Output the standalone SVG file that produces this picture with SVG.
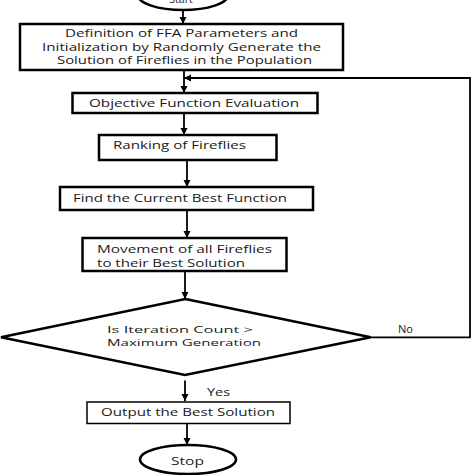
<svg xmlns="http://www.w3.org/2000/svg" width="474" height="475" viewBox="0 0 474 475">
<style>
.box{fill:#fff;stroke:#000;stroke-width:2.5}
.thin{stroke-width:1.5}
.t{font-family:"Open Sans","Liberation Sans",sans-serif;font-size:10.5px;fill:#1a1a1a}
.s{font-size:9.5px}
.c{stroke:#000;stroke-width:1.8;fill:none}
</style>
<defs>
<marker id="ah" markerUnits="userSpaceOnUse" markerWidth="8" markerHeight="8" refX="7" refY="4" orient="auto">
<path d="M0,0.5 L7,4 L0,7.5 Z" fill="#000"/>
</marker>
</defs>
<rect width="474" height="475" fill="#fff"/>
<g id="connectors">
<line class="c" x1="183" y1="10" x2="183" y2="24" marker-end="url(#ah)"/>
<line class="c" x1="184" y1="70" x2="184" y2="93" marker-end="url(#ah)"/>
<line class="c" x1="184" y1="113" x2="184" y2="135" marker-end="url(#ah)"/>
<line class="c" x1="187" y1="160" x2="187" y2="187" marker-end="url(#ah)"/>
<line class="c" x1="187" y1="210" x2="187" y2="238" marker-end="url(#ah)"/>
<line class="c" x1="185" y1="271" x2="185" y2="299" marker-end="url(#ah)"/>
<polyline class="c" points="370.5,337.3 470,337.3 470,78 184,78" marker-end="url(#ah)"/>
<line class="c" x1="185" y1="380.5" x2="185" y2="401" marker-end="url(#ah)"/>
<line class="c" x1="187" y1="423.5" x2="187" y2="445" marker-end="url(#ah)"/>
<text class="t" x="398" y="332.7" textLength="15" lengthAdjust="spacingAndGlyphs">No</text>
<text class="t" x="207" y="396" textLength="23" lengthAdjust="spacingAndGlyphs">Yes</text>
</g>
<g id="start">
<ellipse class="box" cx="183" cy="-5" rx="45" ry="15"/>
<text class="t" x="181" y="3" text-anchor="middle">Start</text>
</g>
<g id="init">
<rect class="box" x="20" y="24" width="323" height="46"/>
<text class="t" x="65" y="37.3" textLength="233" lengthAdjust="spacingAndGlyphs">Definition of FFA Parameters and</text>
<text class="t" x="42" y="50.7" textLength="279" lengthAdjust="spacingAndGlyphs">Initialization by Randomly Generate the</text>
<text class="t" x="57" y="64" textLength="255" lengthAdjust="spacingAndGlyphs">Solution of Fireflies in the Population</text>
</g>
<g id="objective">
<rect class="box" x="72.5" y="93" width="245" height="20"/>
<text class="t" x="89" y="106.5" textLength="210" lengthAdjust="spacingAndGlyphs">Objective Function Evaluation</text>
</g>
<g id="ranking">
<rect class="box" x="99" y="135" width="177.5" height="25"/>
<text class="t" x="113" y="149" textLength="133" lengthAdjust="spacingAndGlyphs">Ranking of Fireflies</text>
</g>
<g id="best">
<rect class="box" x="60" y="187" width="253" height="23"/>
<text class="t" x="73" y="202" textLength="214" lengthAdjust="spacingAndGlyphs">Find the Current Best Function</text>
</g>
<g id="movement">
<rect class="box" x="82.5" y="238" width="204" height="33"/>
<text class="t" x="97" y="253" textLength="175" lengthAdjust="spacingAndGlyphs">Movement of all Fireflies</text>
<text class="t" x="97" y="266.5" textLength="148" lengthAdjust="spacingAndGlyphs">to their Best Solution</text>
</g>
<g id="decision">
<polygon class="box" points="185.3,299 370.7,337.3 185,375 1,337.3"/>
<text class="t s" x="107" y="332.5" textLength="146" lengthAdjust="spacingAndGlyphs">Is Iteration Count &gt;</text>
<text class="t s" x="107" y="345.5" textLength="154" lengthAdjust="spacingAndGlyphs">Maximum Generation</text>
</g>
<g id="output">
<rect class="box thin" x="87" y="402" width="203" height="21.5"/>
<text class="t" x="101" y="415.5" textLength="174" lengthAdjust="spacingAndGlyphs">Output the Best Solution</text>
</g>
<g id="stop">
<ellipse class="box" cx="188" cy="459.5" rx="48" ry="14.5"/>
<text class="t" x="171" y="465" textLength="33" lengthAdjust="spacingAndGlyphs">Stop</text>
</g>
</svg>
